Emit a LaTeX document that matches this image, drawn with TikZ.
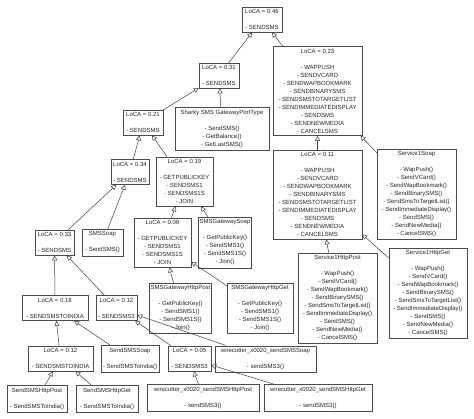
\documentclass[tikz,border=0pt]{standalone}
\usepackage{fontspec}
\setmainfont{Liberation Sans}
\usetikzlibrary{arrows.meta}

\begin{document}
\begin{tikzpicture}[
	x=1pt, y=-1pt,
	font=\fontsize{6}{8}\selectfont,
	concept/.style={
		draw=black!70,
		fill=white,
		text=black!85,
		align=center,
		inner xsep=1pt,
		inner ysep=2.5pt
	},
	isa/.style={-{Triangle[open, length=5pt, width=5pt]}, draw=black!75, line width=0.5pt}
	]
	\useasboundingbox (0,0) rectangle (474,418);
	
	% upper part of the lattice
	\node[concept, minimum width=40pt] (c046) at (262,19.5) {LoCA = 0.46\\[8pt]- SENDSMS};
	\node[concept, minimum width=89pt] (c023) at (317.5,91) {LoCA = 0.23\\[8pt]- WAPPUSH\\- SENDVCARD\\- SENDWAPBOOKMARK\\- SENDBINARYSMS\\- SENDSMSTOTARGETLIST\\- SENDIMMEDIATEDISPLAY\\- SENDSMS\\- SENDNEWMEDIA\\- CANCELSMS};
	\node[concept, minimum width=40pt] (c031) at (219,75.5) {LoCA = 0.31\\[8pt]- SENDSMS};
	\node[concept, minimum width=94pt] (sharky) at (222,128.5) {Sharky SMS GatewayPortType\\[8pt]- SendSMS()\\- GetBalance()\\- GetLastSMS()};
	\node[concept, minimum width=40pt] (c021) at (143,122.5) {LoCA = 0.21\\[8pt]- SENDSMS};
	\node[concept, minimum width=38pt] (c034) at (130,172) {LoCA = 0.34\\[8pt]- SENDSMS};
	\node[concept, minimum width=57pt] (c019) at (184.5,181.5) {LoCA = 0.19\\[8pt]- GETPUBLICKEY\\- SENDSMS1\\- SENDSMS1S\\- JOIN};
	\node[concept, minimum width=89pt] (c011) at (317.5,194.5) {LoCA = 0.11\\[8pt]- WAPPUSH\\- SENDVCARD\\- SENDWAPBOOKMARK\\- SENDBINARYSMS\\- SENDSMSTOTARGETLIST\\- SENDIMMEDIATEDISPLAY\\- SENDSMS\\- SENDNEWMEDIA\\- CANCELSMS};
	\node[concept, minimum width=79pt] (s1soap) at (416.5,194) {Service1Soap\\[8pt]- WapPush()\\- SendVCard()\\- SendWapBookmark()\\- SendBinarySMS()\\- SendSmsToTargetList()\\- SendImmediateDisplay()\\- SendSMS()\\- SendNewMedia()\\- CancelSMS()};
	
	% middle part
	\node[concept, minimum width=39pt] (c033) at (54.5,242.5) {LoCA = 0.33\\[8pt]- SENDSMS};
	\node[concept, minimum width=41pt] (smssoap) at (102.5,242.5) {SMSSoap\\[8pt]- SendSMS()};
	\node[concept, minimum width=57pt] (c009) at (162.5,242.5) {LoCA = 0.09\\[8pt]- GETPUBLICKEY\\- SENDSMS1\\- SENDSMS1S\\- JOIN};
	\node[concept, minimum width=46pt] (gwsoap) at (225,242.5) {SMSGatewaySoap\\[8pt]- GetPublicKey()\\- SendSMS1()\\- SendSMS1S()\\- Join()};
	\node[concept, minimum width=79pt] (s1post) at (337.5,298) {Service1HttpPost\\[8pt]- WapPush()\\- SendVCard()\\- SendWapBookmark()\\- SendBinarySMS()\\- SendSmsToTargetList()\\- SendImmediateDisplay()\\- SendSMS()\\- SendNewMedia()\\- CancelSMS()};
	\node[concept, minimum width=78pt] (s1get) at (428,293) {Service1HttpGet\\[8pt]- WapPush()\\- SendVCard()\\- SendWapBookmark()\\- SendBinarySMS()\\- SendSmsToTargetList()\\- SendImmediateDisplay()\\- SendSMS()\\- SendNewMedia()\\- CancelSMS()};
	\node[concept, minimum width=59pt] (gwpost) at (180.5,308) {SMSGatewayHttpPost\\[8pt]- GetPublicKey()\\- SendSMS1()\\- SendSMS1S()\\- Join()};
	\node[concept, minimum width=66pt] (gwget) at (260,308) {SMSGatewayHttpGet\\[8pt]- GetPublicKey()\\- SendSMS1()\\- SendSMS1S()\\- Join()};
	\node[concept, minimum width=66pt] (c018) at (55,308) {LoCA = 0.18\\[8pt]- SENDSMSTOINDIA};
	\node[concept, minimum width=41pt] (c012s) at (116.5,308) {LoCA = 0.12\\[8pt]- SENDSMS3};
	
	% lower part
	\node[concept, minimum width=65pt] (c012i) at (60.5,358.5) {LoCA = 0.12\\[8pt]- SENDSMSTOINDIA};
	\node[concept, minimum width=58pt] (sendsoap) at (130,358.5) {SendSMSSoap\\[8pt]- SendSMSToIndia()};
	\node[concept, minimum width=43pt] (c005) at (189.5,358.5) {LoCA = 0.05\\[8pt]- SENDSMS3};
	\node[concept, minimum width=101pt] (wcsoap) at (265.5,359) {wirecutter\_x0020\_sendSMSSoap\\[8pt]- sendSMS3()};
	\node[concept, minimum width=60pt] (sendpost) at (37,398.5) {SendSMSHttpPost\\[8pt]- SendSMSToIndia()};
	\node[concept, minimum width=62pt] (sendget) at (107,398.5) {SendSMSHttpGet\\[8pt]- SendSMSToIndia()};
	\node[concept, minimum width=112pt] (wcpost) at (203,397.5) {wirecutter\_x0020\_sendSMSHttpPost\\[8pt]- sendSMS3()};
	\node[concept, minimum width=108pt] (wcget) at (318,397.5) {wirecutter\_x0020\_sendSMSHttpGet\\[8pt]- sendSMS3()};
	
	\draw[isa] (c031) -- (c046);
	\draw[isa] (c023) -- (c046);
	\draw[isa] (c021) -- (c031);
	\draw[isa] (sharky) -- (c031);
	\draw[isa] (c034) -- (c021);
	\draw[isa] (c019) -- (c021);
	\draw[isa] (c033) -- (c034);
	\draw[isa] (smssoap) -- (c034);
	\draw[isa] (c009) -- (c019);
	\draw[isa] (gwsoap) -- (c019);
	\draw[isa] (c011) -- (c023);
	\draw[isa] (s1soap) -- (c023);
	\draw[isa] (s1post) -- (c011);
	\draw[isa] (s1get) -- (c011);
	\draw[isa] (gwpost) -- (c009);
	\draw[isa] (gwget) -- (c009);
	\draw[isa] (c018) -- (c033);
	\draw[isa] (c012s) -- (c033);
	\draw[isa] (c012i) -- (c018);
	\draw[isa] (sendsoap) -- (c018);
	\draw[isa] (c005) -- (c012s);
	\draw[isa] (wcsoap) -- (c012s);
	\draw[isa] (sendpost) -- (c012i);
	\draw[isa] (sendget) -- (c012i);
	\draw[isa] (wcpost) -- (c005);
	\draw[isa] (wcget) -- (c005);
	
\end{tikzpicture}
\end{document}
